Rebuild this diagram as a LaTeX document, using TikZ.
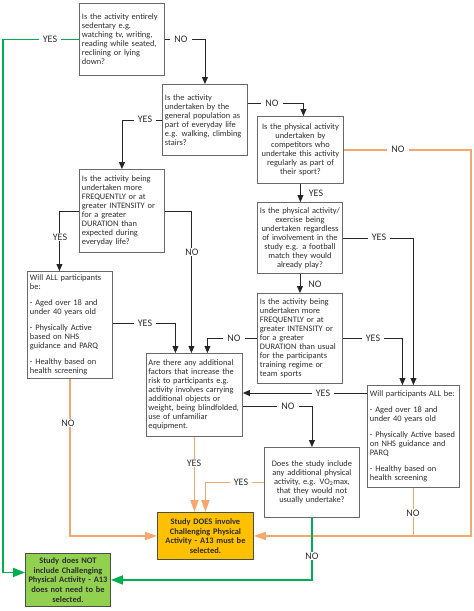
\documentclass[tikz,border=0pt]{standalone}
\usepackage{fontspec}
\setmainfont{Carlito}
\usetikzlibrary{arrows.meta,calc}
\definecolor{bordergray}{RGB}{105,105,105}
\definecolor{oline}{RGB}{245,168,110}
\definecolor{gline}{RGB}{0,176,80}
\definecolor{kfill}{RGB}{255,192,0}
\definecolor{lfill}{RGB}{146,208,80}
\definecolor{txt}{RGB}{45,45,45}
\newcommand\boxfont{\fontsize{8.4}{9}\selectfont\hyphenpenalty=10000\exhyphenpenalty=10000}
\newcommand\termfont{\fontsize{8.4}{9.7}\selectfont\bfseries}
\newcommand\labfont{\fontsize{10}{10}\selectfont}
\begin{document}
\begin{tikzpicture}[x=1pt,y=-1pt,
  box/.style={draw=bordergray, line width=0.9pt, fill=white, anchor=north west,
    inner xsep=2pt, inner ysep=1pt, font=\boxfont, text=txt, align=left},
  cbox/.style={box, align=center},
  arr/.style={draw=black!85, line width=0.9pt, -{Triangle[length=7pt,width=6pt]}},
  ln/.style={draw=black!85, line width=0.9pt},
  oarr/.style={draw=oline, line width=1.8pt, -{Triangle[length=12pt,width=8pt]}},
  oln/.style={draw=oline, line width=1.8pt},
  garr/.style={draw=gline, line width=1.8pt, -{Triangle[length=12pt,width=9pt]}},
  lab/.style={fill=white, font=\labfont, text=txt, inner xsep=4pt, inner ysep=0.5pt},
]
\useasboundingbox (0,0) rectangle (474,611);
\fill[white] (0,0) rectangle (474,611);

% boxes
\node[box, minimum width=85pt, minimum height=72pt, text width=80pt] (A) at (79,3)
  {Is the activity entirely\\ sedentary e.g.\\ watching tv, writing,\\ reading while seated,\\ reclining or lying\\ down?};
\node[box, minimum width=85pt, minimum height=71pt, text width=80pt] (B) at (162,84)
  {Is the activity\\ undertaken by the\\ general population as\\ part of everyday life\\ e.g. walking, climbing\\ stairs?};
\node[cbox, minimum width=86pt, minimum height=67pt, text width=82pt] (C) at (257,116)
  {Is the physical activity\\ undertaken by\\ competitors who\\ undertake this activity\\ regularly as part of\\ their sport?};
\node[cbox, minimum width=85pt, minimum height=71pt, text width=81pt] (D) at (257,202)
  {Is the physical activity/\\ exercise being\\ undertaken regardless\\ of involvement in the\\ study e.g. a football\\ match they would\\ already play?};
\node[box, minimum width=85pt, minimum height=90pt, text width=80pt] (E) at (257,293)
  {Is the activity being\\ undertaken more\\ FREQUENTLY or at\\ greater INTENSITY or\\ for a greater\\ DURATION than usual\\ for the participants\\ training regime or\\ team sports};
\node[box, minimum width=85pt, minimum height=83pt, text width=80pt] (F) at (79,169)
  {Is the activity being\\ undertaken more\\ FREQUENTLY or at\\ greater INTENSITY or\\ for a greater\\ DURATION than\\ expected during\\ everyday life?};
\node[box, minimum width=85pt, minimum height=107pt, text width=80pt] (G) at (27,271)
  {Will ALL participants\\ be:\\[7pt] - Aged over 18 and\\ under 40 years old\\[7pt] - Physically Active\\ based on NHS\\ guidance and PARQ\\[7pt] - Healthy based on\\ health screening};
\node[box, minimum width=96pt, minimum height=83pt, text width=92pt] (H) at (146,353)
  {Are there any additional\\ factors that increase the\\ risk to participants e.g.\\ activity involves carrying\\ additional objects or\\ weight, being blindfolded,\\ use of unfamiliar\\ equipment.};
\node[box, minimum width=92pt, minimum height=102pt, text width=87pt] (I) at (367,385)
  {Will participants ALL be:\\[7pt] - Aged over 18 and\\ under 40 years old\\[7pt] - Physically Active based\\ on NHS guidance and\\ PARQ\\[7pt] - Healthy based on\\ health screening};
\node[cbox, minimum width=95pt, minimum height=70pt, text width=91pt] (J) at (264,447)
  {Does the study include\\ any additional physical\\ activity, e.g. VO\textsubscript{2}max,\\ that they would not\\ usually undertake?};
\node[cbox, fill=kfill, draw=black!70, font=\termfont, minimum width=96pt, minimum height=47pt, text width=92pt] (K) at (157,512)
  {Study DOES involve\\ Challenging Physical\\ Activity - A13 must be\\ selected.};
\node[cbox, fill=lfill, draw=black!70, font=\termfont, minimum width=85pt, minimum height=53pt, text width=81pt] (L) at (25,553)
  {Study does NOT\\ include Challenging\\ Physical Activity - A13\\ does not need to be\\ selected.};

% connectors
\coordinate (Lin) at ([yshift=7.5pt]L.west);
\coordinate (Iw) at ([yshift=-8pt]I.north west);
\coordinate (Hn) at ([yshift=-53pt]H.north east);

\draw[arr] (A.east) -| (B.north);
\draw[garr] (A.west) -- ++(-76,0) |- (Lin);
\draw[arr] (B.west) -| (F.north);
\draw[arr] ([yshift=16.5pt]B.east) -| ([xshift=3pt]C.north);
\draw[oarr] (C.east) -- ++(127,0) |- (K.east);
\draw[arr] (C.south) -- (C.south |- D.north);
\draw[arr] (D.east) -| (I.north);
\draw[arr] (D.south) -- (D.south |- E.north);
\draw[arr] (E.east) -| ([xshift=-11pt]I.north);
\draw[arr] (E.west) -| ([xshift=13pt]H.north);
\draw[arr] (F.west) -| ([xshift=-10.5pt]G.north);
\draw[arr] (F.east) -| ([xshift=-3pt]H.north);
\draw[arr] ([yshift=1.5pt]G.east) -| ([xshift=-19pt]H.north);
\draw[oarr] (G.south) |- (K.west);
\draw[arr] (Iw) -- (Iw -| H.east);
\draw[arr] (Hn) -| (J.north);
\draw[oarr] (H.south) -- (H.south |- K.north);
\draw[oarr] (J.west) -| (K.north);
\draw[oln] (I.south) -- (I.south |- K.east);
\draw[garr] (J.south) |- (L.east);

% labels
\node[lab] (yA) at (50,39) {YES};
\node[lab] (nA) at (181,39) {NO};
\node[lab] (yB) at (145,119.5) {YES};
\node[lab] (nB) at (272,103) {NO};
\node[lab] (nC) at (398,149.5) {NO};
\node[lab] (yC) at (316,193) {YES};
\node[lab] (yD) at (379,237.5) {YES};
\node[lab] (nD) at (315,284) {NO};
\node[lab] (yE) at (373,338) {YES};
\node[lab] (nE) at (234,338) {NO};
\node[lab] (yF) at (60,237) {YES};
\node[lab] (nF) at (192,252) {NO};
\node[lab] (yG) at (145,323) {YES};
\node[lab] (nG) at (68,423) {NO};
\node[lab] (yI) at (323,393) {YES};
\node[lab] (nH) at (288,406) {NO};
\node[lab] (yH) at (194,463) {YES};
\node[lab] (yJ) at (241,482) {YES};
\node[lab] (nI) at (413,513) {NO};
\node[lab] (nJ) at (312,556) {NO};
\end{tikzpicture}
\end{document}
